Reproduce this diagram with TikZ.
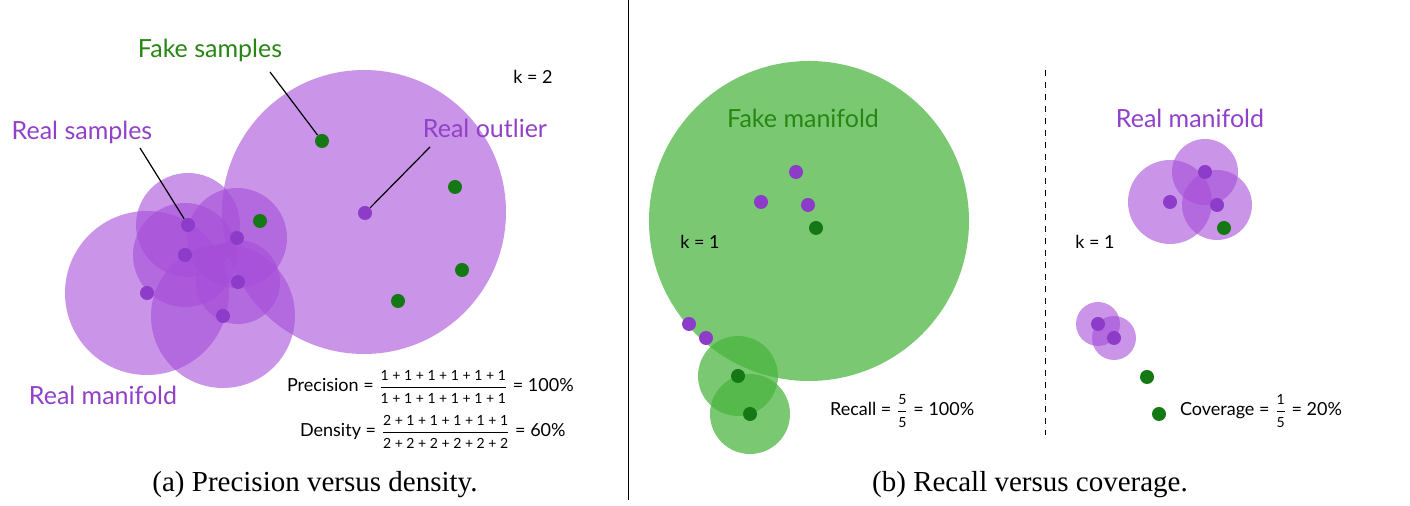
\documentclass[tikz,border=0pt]{standalone}
\usepackage{fontspec}
\setmainfont{Liberation Serif}
\newfontfamily\mysf{Lato}
\newcommand{\sfr}[2]{$\displaystyle\frac{\hbox{\mysf\fontsize{7}{8}\selectfont #1}}{\hbox{\mysf\fontsize{7}{8}\selectfont #2}}$}
\begin{document}
\begin{tikzpicture}[x=0.5pt,y=-0.5pt,
  pc/.style={fill={rgb,255:red,166;green,77;blue,217},fill opacity=0.6,draw=none},
  gc/.style={fill={rgb,255:red,70;green,180;blue,60},fill opacity=0.72,draw=none},
  pd/.style={circle,fill={rgb,255:red,140;green,60;blue,200},inner sep=0,minimum size=7pt},
  gd/.style={circle,fill={rgb,255:red,20;green,120;blue,20},inner sep=0,minimum size=7pt},
  gl/.style={font=\mysf\fontsize{12.5}{14}\selectfont,text={rgb,255:red,40;green,135;blue,20}},
  pl/.style={font=\mysf\fontsize{12.5}{14}\selectfont,text={rgb,255:red,145;green,65;blue,200}},
  bl/.style={font=\mysf\fontsize{9}{11}\selectfont},
  captxt/.style={font=\fontsize{14.5}{16}\selectfont}]
\useasboundingbox (0,0) rectangle (1410,506);
% left panel circles
\fill[pc] (364,212) circle[radius=142*0.5pt];
\foreach \x/\y/\r in {147/293/82,188/225/52,237/238/50,185/255/52,238/282/42,223/316/72}
  \fill[pc] (\x,\y) circle[radius=\r*0.5pt];
\foreach \n/\x/\y in {a1/188/225,a2/237/238,a3/185/255,a4/238/282,a5/147/293,a6/223/316,ao/365/213}
  \node[pd] (\n) at (\x,\y) {};
\foreach \n/\x/\y in {f1/322/141,f2/260/221,f3/455/187,f4/462/270,f5/398/301}
  \node[gd] (\n) at (\x,\y) {};
\node[gl] (fs) at (210,50) {Fake samples};
\node[pl] (rs) at (82,132) {Real samples};
\node[pl] (ro) at (485,128) {Real outlier};
\node[pl] (rm) at (103,395) {Real manifold};
\node[bl] (k2) at (533,77) {k = 2};
\coordinate (fsa) at (270,72);\coordinate (rsa) at (140,148);\coordinate (roa) at (430,147);
\draw[semithick] (fsa) -- (f1);
\draw[semithick] (rsa) -- (a1);
\draw[semithick] (roa) -- (ao);
\node[bl,anchor=west] (pr) at (280,387) {Precision = \sfr{1 + 1 + 1 + 1 + 1 + 1}{1 + 1 + 1 + 1 + 1 + 1} = 100\%};
\node[bl,anchor=west] (de) at (293,432) {Density = \sfr{2 + 1 + 1 + 1 + 1 + 1}{2 + 2 + 2 + 2 + 2 + 2} = 60\%};
\node[captxt] (ca) at (315,485) {(a) Precision versus density.};
% divider
\coordinate (d1) at (628,0);\coordinate (d2) at (628,500);
\draw (d1) -- (d2);
% right panel
\fill[gc] (809,221) circle[radius=160*0.5pt];
\fill[gc] (738,376) circle[radius=40*0.5pt];
\fill[gc] (750,414) circle[radius=40*0.5pt];
\foreach \n/\x/\y in {b1/796/172,b2/761/202,b3/808/205,b4/689/324,b5/706/338}
  \node[pd] (\n) at (\x,\y) {};
\foreach \n/\x/\y in {g1/816/228,g2/738/376,g3/750/414}
  \node[gd] (\n) at (\x,\y) {};
\node[gl] (fm) at (803,118) {Fake manifold};
\node[bl] (k1) at (700,242) {k = 1};
\node[bl,anchor=west] (re) at (823,411) {Recall = \sfr{5}{5} = 100\%};
\coordinate (e1) at (1045,70);\coordinate (e2) at (1045,435);
\draw[dashed] (e1) -- (e2);
\foreach \x/\y/\r in {1205/172/33,1170/202/42,1217/205/35,1098/324/22,1114/338/22}
  \fill[pc] (\x,\y) circle[radius=\r*0.5pt];
\foreach \n/\x/\y in {c1/1205/172,c2/1170/202,c3/1217/205,c4/1098/324,c5/1114/338}
  \node[pd] (\n) at (\x,\y) {};
\foreach \n/\x/\y in {h1/1224/228,h2/1147/377,h3/1159/414}
  \node[gd] (\n) at (\x,\y) {};
\node[pl] (rm2) at (1190,118) {Real manifold};
\node[bl] (k12) at (1095,242) {k = 1};
\node[bl,anchor=west] (co) at (1173,411) {Coverage = \sfr{1}{5} = 20\%};
\node[captxt] (cb) at (1030,485) {(b) Recall versus coverage.};
\end{tikzpicture}
\end{document}
